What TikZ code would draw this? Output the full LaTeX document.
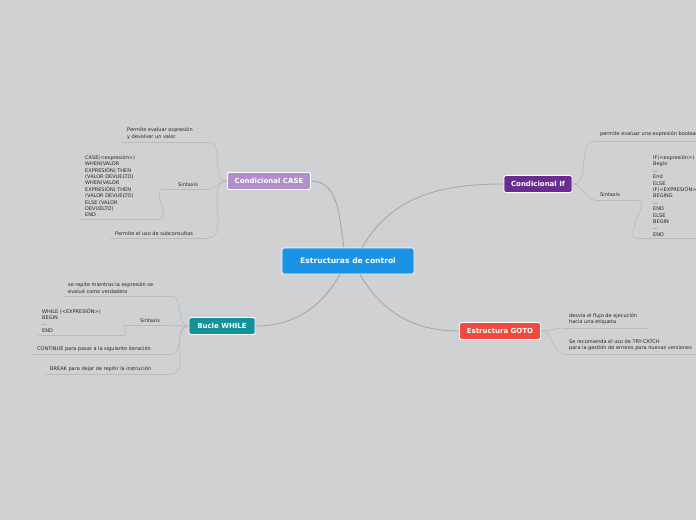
\documentclass[tikz,border=0pt]{standalone}
\usepackage{fontspec}
\setmainfont{DejaVu Sans}
\begin{document}
\begin{tikzpicture}[x=1pt,y=-1pt,
  main/.style={draw=white,line width=0.8pt,rounded corners=1.5pt,text=white,font=\fontsize{7}{8}\selectfont\bfseries,inner sep=0pt,minimum height=17pt},
  leaf/.style={anchor=south west,align=left,inner sep=0pt,font=\fontsize{5}{6.4}\selectfont,text=black!85},
  con/.style={draw={rgb,255:red,168;green,168;blue,170},line width=0.9pt},
  lin/.style={draw={rgb,255:red,186;green,186;blue,188},line width=0.6pt}]
\fill[fill={rgb,255:red,208;green,209;blue,211}] (0,0) rectangle (696,520);
\clip (0,0) rectangle (696,520);
\useasboundingbox (0,0) rectangle (696,520);
% main nodes
\node[main,fill={rgb,255:red,26;green,147;blue,230},minimum width=132pt,minimum height=26pt,font=\fontsize{7.6}{9}\selectfont\bfseries] (c) at (348,261) {Estructuras de control};
\node[main,fill={rgb,255:red,176;green,143;blue,203},minimum width=83pt] (case) at (269,181) {Condicional CASE};
\node[main,fill={rgb,255:red,106;green,44;blue,145},minimum width=68pt] (if) at (538,184) {Condicional If};
\node[main,fill={rgb,255:red,20;green,146;blue,153},minimum width=66pt] (wh) at (222,326) {Bucle WHILE};
\node[main,fill={rgb,255:red,239;green,74;blue,61},minimum width=81pt] (go) at (500,331) {Estructura GOTO};
% main connectors
\draw[con] (c.north)++(-4,0) coordinate (c1) (case.east) to[out=0,in=100] (c1);
\draw[con] (c.north)++(14,0) coordinate (c2) (c2) to[out=60,in=180] (if.west);
\draw[con] (c.south)++(-8,0) coordinate (c3) (c3) to[out=-120,in=0] (wh.east);
\draw[con] (c.south)++(12,0) coordinate (c4) (c4) to[out=-60,in=180] (go.west);
% CASE leaves
\node[leaf] (a1) at (127,139.5) {Permite evaluar expresión\\y devolver un valor.};
\coordinate (a1r) at (208,142); \coordinate (a1l) at (122,142);
\draw[lin] (a1l) -- (a1r);
\draw[lin] (case.west) to[out=180,in=0] (a1r);
\node[leaf] (a2) at (178,187) {Sintaxis};
\coordinate (a2r) at (208,189); \coordinate (a2l) at (163,189);
\draw[lin] (a2l) -- (a2r);
\draw[lin] (case.west) to[out=180,in=0] (a2r);
\node[leaf] (a3) at (85,217) {CASE(<expresión>)\\WHEN(VALOR\\EXPRESIÓN) THEN\\(VALOR DEVUELTO)\\WHEN(VALOR\\EXPRESIÓN) THEN\\(VALOR DEVUELTO)\\ELSE (VALOR\\DEVUELTO)\\END};
\coordinate (a3r) at (160,219); \coordinate (a3l) at (80,219);
\draw[lin] (a3l) -- (a3r);
\draw[lin] (a2l) to[out=180,in=0] (a3r);
\node[leaf] (a4) at (115,235.5) {Permite el uso de subconsultas};
\coordinate (a4r) at (208,238); \coordinate (a4l) at (110,238);
\draw[lin] (a4l) -- (a4r);
\draw[lin] (case.west) to[out=180,in=0] (a4r);
% IF leaves
\node[leaf] (b1) at (600,137) {permite evaluar una expresión booleana};
\coordinate (b1l) at (595,141); \coordinate (b1r) at (700,141);
\draw[lin] (b1l) -- (b1r);
\draw[lin] (if.east) to[out=0,in=180] (b1l);
\node[leaf] (b2) at (600,196.5) {Sintaxis};
\coordinate (b2l) at (595,200); \coordinate (b2r) at (637,200);
\draw[lin] (b2l) -- (b2r);
\draw[lin] (if.east) to[out=0,in=180] (b2l);
\node[leaf] (b3) at (653,236.5) {IF(<expresión>)\\Begin\\...\\End\\ELSE\\IF(<EXPRESIÓN>)\\BEGING\\...\\END\\ELSE\\BEGIN\\...\\END};
\coordinate (b3l) at (637,238); \coordinate (b3r) at (700,238);
\draw[lin] (b3l) -- (b3r);
\draw[lin] (b2r) to[out=0,in=180] (b3l);
% WHILE leaves
\node[leaf] (w1) at (68,293.5) {se repite mientras la expresión se\\evalué como verdadero};
\coordinate (w1l) at (63,296); \coordinate (w1r) at (171,296);
\draw[lin] (w1l) -- (w1r);
\draw[lin] (wh.west) to[out=180,in=0] (w1r);
\node[leaf] (w2) at (140,322.5) {Sintaxis};
\coordinate (w2l) at (125,325); \coordinate (w2r) at (171,325);
\draw[lin] (w2l) -- (w2r);
\draw[lin] (wh.west) to[out=180,in=0] (w2r);
\node[leaf] (w3) at (42,332.5) {WHILE (<EXPRESIÓN>)\\BEGIN\\...\\END};
\coordinate (w3l) at (38,335); \coordinate (w3r) at (125,335);
\draw[lin] (w3l) -- (w3r);
\draw[lin] (w2l) to[out=180,in=0] (w3r);
\node[leaf] (w4) at (37,351.5) {CONTINUE para pasar a la siguiente iteración};
\coordinate (w4l) at (32,354); \coordinate (w4r) at (171,354);
\draw[lin] (w4l) -- (w4r);
\draw[lin] (wh.west) to[out=180,in=0] (w4r);
\node[leaf] (w5) at (50,371.5) {BREAK para dejar de repitir la instrución};
\coordinate (w5l) at (45,374); \coordinate (w5r) at (171,374);
\draw[lin] (w5l) -- (w5r);
\draw[lin] (wh.west) to[out=180,in=0] (w5r);
% GOTO leaves
\node[leaf] (g1) at (569,325) {desvia el flujo de ejecución\\hacia una etiqueta};
\coordinate (g1l) at (564,328); \coordinate (g1r) at (648,328);
\draw[lin] (g1l) -- (g1r);
\draw[lin] (go.east) to[out=0,in=180] (g1l);
\node[leaf] (g2) at (569,351) {Se recomienda el uso de TRY-CATCH\\para la gestión de errores para nuevas versiones};
\coordinate (g2l) at (564,354); \coordinate (g2r) at (700,354);
\draw[lin] (g2l) -- (g2r);
\draw[lin] (go.east) to[out=0,in=180] (g2l);
\end{tikzpicture}
\end{document}
